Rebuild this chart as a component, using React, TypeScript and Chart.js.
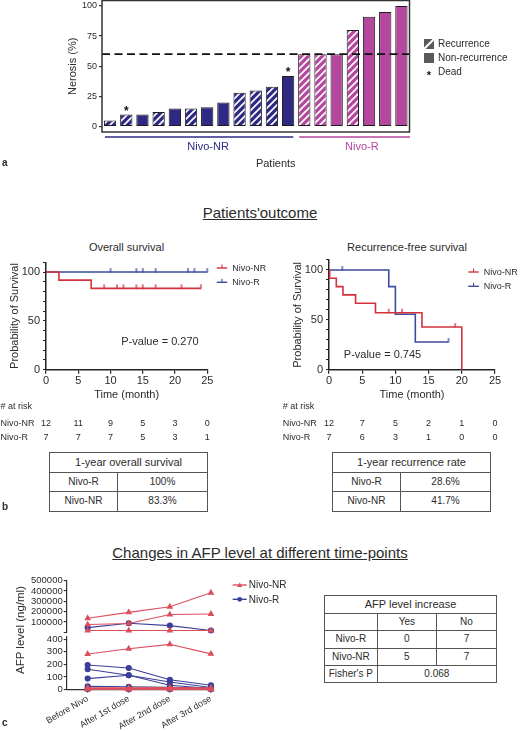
import React, { useEffect, useRef } from 'react';
import { Chart, registerables } from 'chart.js';

Chart.register(...registerables);

const FONT = '"Liberation Sans", Arial, Helvetica, sans-serif';
const INK = '#2b2b2b';

/* ---------------- a: necrosis per patient ---------------- */
const patientIds = ['1', '2', '3', '4', '5', '6', '7', '8', '9', '10', '11', '12', '13', '14', '15', '16', '17', '18', '19'];
const necrosisPct = [5, 10, 10, 12, 15, 15, 16, 20, 28, 30, 33, 42, 60, 60, 60, 80, 91, 95, 100];
const patientGroup = [
  'Nivo-NR', 'Nivo-NR', 'Nivo-NR', 'Nivo-NR', 'Nivo-NR', 'Nivo-NR', 'Nivo-NR', 'Nivo-NR', 'Nivo-NR', 'Nivo-NR', 'Nivo-NR', 'Nivo-NR',
  'Nivo-R', 'Nivo-R', 'Nivo-R', 'Nivo-R', 'Nivo-R', 'Nivo-R', 'Nivo-R',
];
const recurred = [true, true, false, true, false, true, false, false, true, true, true, false, true, true, false, true, false, false, false];
const died = [false, true, false, false, false, false, false, false, false, false, false, true, false, false, false, false, false, false, false];
const necrosisCutoff = 60;
const necrosisTicks = [0, 25, 50, 75, 100];
const groupNames = ['Nivo-NR', 'Nivo-R'];
const groupColors = ['#2e2a84', '#b4479e'];
const barLegendLabels = ['Recurrence', 'Non-recurrence', 'Dead'];

/* ---------------- b: Kaplan-Meier ---------------- */
const kmGroups = ['Nivo-NR', 'Nivo-R'];
const kmColors = ['#d3313e', '#3c4a9f'];
const osNRTimes = [0, 2, 7, 24];
const osNRSurv = [100, 91.7, 83.3, 83.3];
const osNRCensored = [9, 11, 12, 14, 15, 17, 21, 24];
const osRTimes = [0, 25];
const osRSurv = [100, 100];
const osRCensored = [10, 14, 15, 17, 22, 23, 25];
const rfsNRTimes = [0, 0.1, 1.1, 2.1, 4, 7, 14, 20];
const rfsNRSurv = [100, 91.7, 83.3, 75, 66.7, 57.1, 42.8, 0];
const rfsNRCensored = [9, 11, 19];
const rfsRTimes = [0, 9, 10, 13, 18];
const rfsRSurv = [100, 83.3, 55.6, 27.8, 27.8];
const rfsRCensored = [2, 18];
const kmTimeTicks = [0, 5, 10, 15, 20, 25];
const kmSurvTicks = [0, 10, 20, 30, 40, 50, 60, 70, 80, 90, 100, 110];
const kmSurvLabels = [0, 50, 100];
const osPValue = 'P-value = 0.270';
const rfsPValue = 'P-value = 0.745';
const atRiskTimes = [0, 5, 10, 15, 20, 25];
const osAtRiskNR = [12, 11, 9, 5, 3, 0];
const osAtRiskR = [7, 7, 7, 5, 3, 1];
const rfsAtRiskNR = [12, 7, 5, 2, 1, 0];
const rfsAtRiskR = [7, 6, 3, 1, 0, 0];
const oneYearRows = ['Nivo-R', 'Nivo-NR'];
const oneYearOS = ['100%', '83.3%'];
const oneYearRecurrence = ['28.6%', '41.7%'];

/* ---------------- c: AFP ---------------- */
const afpTimepoints = ['Before Nivo', 'After 1st dose', 'After 2nd dose', 'After 3rd dose'];
const afpNivoNR: number[][] = [
  [136000, 193000, 248000, 383000],
  [75000, 85000, 172000, 178000],
  [17000, 17000, 17000, 17000],
  [283, 325, 360, 284],
  [14, 13, 15, 12],
  [9, 8, 10, 11],
  [6, 5, 5, 6],
  [4, 4, 3, 4],
  [3, 2, 3, 2],
  [2, 2, 2, 2],
  [1, 1, 1, 1],
  [5, 6, 7, 8],
];
const afpNivoR: number[][] = [
  [45000, 88000, 65000, 17000],
  [195, 171, 78, 34],
  [161, 113, 60, 16],
  [87, 113, 34, 8],
  [25, 22, 18, 12],
  [8, 6, 4, 3],
  [3, 2, 2, 1],
];
const afpColors = ['#db4f5c', '#3b3f98'];
const afpUpperTicks = [0, 100000, 200000, 300000, 400000, 500000];
const afpLowerTicks = [0, 100, 200, 300, 400];
const afpUpperMax = 500000;
const afpLowerMax = 420;
const afpTableRows = ['Nivo-R', 'Nivo-NR'];
const afpYes = [0, 5];
const afpNo = [7, 7];
const fisherP = '0.068';

/* ---------------- helpers ---------------- */
function hatchPattern(color: string, size: number): any {
  const c = document.createElement('canvas');
  c.width = size;
  c.height = size;
  const g = c.getContext('2d')!;
  g.fillStyle = color;
  g.fillRect(0, 0, size, size);
  g.strokeStyle = '#ffffff';
  g.lineWidth = 1.7;
  g.beginPath();
  g.moveTo(-1, size + 1);
  g.lineTo(size + 1, -1);
  g.moveTo(-size / 2 - 1, size / 2 + 1);
  g.lineTo(size / 2 + 1, -size / 2 - 1);
  g.moveTo(size / 2 - 1, size * 1.5 + 1);
  g.lineTo(size * 1.5 + 1, size / 2 - 1);
  g.stroke();
  return g.createPattern(c, 'repeat');
}

function censorMark(color: string): HTMLCanvasElement {
  const c = document.createElement('canvas');
  c.width = 4;
  c.height = 10;
  const g = c.getContext('2d')!;
  g.strokeStyle = color;
  g.lineWidth = 1.3;
  g.beginPath();
  g.moveTo(2, 1);
  g.lineTo(2, 5.5);
  g.stroke();
  return c;
}

function stepValue(times: number[], surv: number[], t: number): number {
  let v = surv[0];
  for (let i = 0; i < times.length; i++) if (times[i] <= t) v = surv[i];
  return v;
}

type LegendItem = { text: string; color: string; marker: 'tick' | 'triangle' | 'circle' };
function lineLegend(id: string, cfg: { x: number; y: number; spacing: number; len: number; gap: number; size: number; items: LegendItem[] }) {
  return {
    id,
    afterDraw(chart: any) {
      const ctx = chart.ctx;
      ctx.save();
      ctx.font = `${cfg.size}px ${FONT}`;
      ctx.textBaseline = 'middle';
      ctx.textAlign = 'left';
      cfg.items.forEach((it, i) => {
        const y = cfg.y + i * cfg.spacing;
        const x = cfg.x;
        const mx = x + cfg.len / 2;
        ctx.strokeStyle = it.color;
        ctx.fillStyle = it.color;
        ctx.lineWidth = 1.4;
        ctx.beginPath();
        ctx.moveTo(x, y);
        ctx.lineTo(x + cfg.len, y);
        ctx.stroke();
        if (it.marker === 'tick') {
          ctx.lineWidth = 1.1;
          ctx.beginPath();
          ctx.moveTo(mx, y);
          ctx.lineTo(mx, y - 3.5);
          ctx.stroke();
        } else if (it.marker === 'triangle') {
          ctx.beginPath();
          ctx.moveTo(mx, y - 2.6);
          ctx.lineTo(mx + 2.6, y + 2);
          ctx.lineTo(mx - 2.6, y + 2);
          ctx.closePath();
          ctx.fill();
        } else {
          ctx.beginPath();
          ctx.arc(mx, y, 2.4, 0, Math.PI * 2);
          ctx.fill();
        }
        ctx.fillStyle = INK;
        ctx.fillText(it.text, x + cfg.len + cfg.gap, y + 0.5);
      });
      ctx.restore();
    },
  };
}

/* ---------------- configs ---------------- */
function barConfig(): any {
  const fills = necrosisPct.map((_, i) => {
    const c = groupColors[groupNames.indexOf(patientGroup[i])];
    return recurred[i] ? hatchPattern(c, 7) : c;
  });
  const decor = {
    id: 'barDecor',
    afterDatasetsDraw(chart: any) {
      const { ctx, chartArea, scales } = chart;
      const y = scales.y.getPixelForValue(necrosisCutoff);
      ctx.save();
      ctx.setLineDash([8, 4.5]);
      ctx.strokeStyle = '#111';
      ctx.lineWidth = 1.7;
      ctx.beginPath();
      ctx.moveTo(chartArea.left, y);
      ctx.lineTo(chartArea.right, y);
      ctx.stroke();
      ctx.setLineDash([]);
      const bars = chart.getDatasetMeta(0).data;
      ctx.fillStyle = '#111';
      ctx.font = `bold 12px ${FONT}`;
      ctx.textAlign = 'center';
      ctx.textBaseline = 'alphabetic';
      bars.forEach((b: any, i: number) => {
        if (died[i]) ctx.fillText('*', b.x, b.y + 0.5);
      });
      ctx.restore();
    },
    afterDraw(chart: any) {
      const { ctx, chartArea } = chart;
      const bars = chart.getDatasetMeta(0).data;
      ctx.save();
      ctx.strokeStyle = '#333';
      ctx.lineWidth = 1.5;
      ctx.strokeRect(chartArea.left, chartArea.top, chartArea.right - chartArea.left, chartArea.bottom - chartArea.top);
      groupNames.forEach((g, gi) => {
        const idx = patientGroup.map((p, i) => (p === g ? i : -1)).filter((i) => i >= 0);
        const first = bars[idx[0]];
        const last = bars[idx[idx.length - 1]];
        const x0 = first.x - first.width / 2 + 1;
        const x1 = gi === groupNames.length - 1 ? chartArea.right + 0.5 : last.x + last.width / 2 - 1;
        ctx.strokeStyle = groupColors[gi];
        ctx.lineWidth = 1.5;
        ctx.beginPath();
        ctx.moveTo(x0, chartArea.bottom + 5);
        ctx.lineTo(x1, chartArea.bottom + 5);
        ctx.stroke();
        ctx.fillStyle = groupColors[gi];
        ctx.font = `11px ${FONT}`;
        ctx.textAlign = 'center';
        ctx.textBaseline = 'middle';
        ctx.fillText(g, (first.x - first.width / 2 + last.x + last.width / 2) / 2 + 9, chartArea.bottom + 14.5);
      });
      ctx.fillStyle = INK;
      ctx.font = `11px ${FONT}`;
      ctx.textAlign = 'center';
      ctx.textBaseline = 'middle';
      ctx.fillText('Patients', (chartArea.left + chartArea.right) / 2 + 20, chartArea.bottom + 31.5);
      const lx = chartArea.right + 14.5;
      const ly = [54, 68, 82];
      ctx.fillStyle = '#595959';
      ctx.fillRect(lx, ly[0] - 5, 10, 10);
      ctx.save();
      ctx.beginPath();
      ctx.rect(lx, ly[0] - 5, 10, 10);
      ctx.clip();
      ctx.strokeStyle = '#fff';
      ctx.lineWidth = 2;
      ctx.beginPath();
      ctx.moveTo(lx - 1, ly[0] + 6);
      ctx.lineTo(lx + 11, ly[0] - 6);
      ctx.stroke();
      ctx.restore();
      ctx.fillStyle = '#595959';
      ctx.fillRect(lx, ly[1] - 5, 10, 10);
      ctx.fillStyle = '#111';
      ctx.font = `bold 11px ${FONT}`;
      ctx.textAlign = 'center';
      ctx.textBaseline = 'alphabetic';
      ctx.fillText('*', lx + 5, ly[2] + 6.5);
      ctx.fillStyle = INK;
      ctx.font = `10px ${FONT}`;
      ctx.textAlign = 'left';
      ctx.textBaseline = 'middle';
      barLegendLabels.forEach((t, i) => ctx.fillText(t, lx + 14, ly[i] + 0.5));
      ctx.restore();
    },
  };
  return {
    type: 'bar',
    data: {
      labels: patientIds,
      datasets: [
        {
          data: necrosisPct,
          backgroundColor: fills,
          borderColor: '#1b1b1b',
          borderWidth: 1,
          borderSkipped: false,
          categoryPercentage: 1,
          barPercentage: 0.76,
        },
      ],
    },
    options: {
      responsive: false,
      animation: false,
      events: [],
      layout: { padding: { left: 62, right: 110.5, top: 10.5, bottom: 43 } },
      plugins: { legend: { display: false }, tooltip: { enabled: false } },
      scales: {
        x: { display: false },
        y: {
          min: -4.5,
          max: 104.5,
          afterBuildTicks: (ax: any) => {
            ax.ticks = necrosisTicks.map((v) => ({ value: v }));
          },
          afterFit: (ax: any) => {
            ax.width = 40;
          },
          ticks: { font: { family: FONT, size: 9 }, color: INK, padding: 2, autoSkip: false },
          grid: { drawOnChartArea: false, tickLength: 3, color: '#333', lineWidth: 1.2 },
          border: { display: false },
          title: { display: true, text: 'Nerosis (%)', font: { family: FONT, size: 11 }, color: INK },
        },
      },
    },
    plugins: [decor],
  };
}

function kmConfig(o: {
  series: { name: string; color: string; times: number[]; surv: number[]; censored: number[] }[];
  pad: { left: number; right: number; top: number; bottom: number };
  yWidth: number;
  legend: { x: number; y: number };
}): any {
  const datasets: any[] = [];
  o.series.forEach((s) => {
    datasets.push({
      label: s.name,
      data: s.times.map((t, i) => ({ x: t, y: s.surv[i] })),
      borderColor: s.color,
      borderWidth: 1.6,
      pointRadius: 0,
      stepped: true,
      fill: false,
      clip: false,
    });
    datasets.push({
      label: s.name + ' censored',
      data: s.censored.map((t) => ({ x: t, y: stepValue(s.times, s.surv, t) })),
      showLine: false,
      pointStyle: censorMark(s.color),
      pointRadius: 3,
      borderColor: s.color,
      backgroundColor: s.color,
      clip: false,
    });
  });
  return {
    type: 'line',
    data: { datasets },
    options: {
      responsive: false,
      animation: false,
      events: [],
      layout: { padding: o.pad },
      plugins: { legend: { display: false }, tooltip: { enabled: false } },
      scales: {
        x: {
          type: 'linear',
          min: 0,
          max: 25,
          afterBuildTicks: (ax: any) => {
            ax.ticks = kmTimeTicks.map((v) => ({ value: v }));
          },
          afterFit: (ax: any) => {
            ax.height = 36.3;
          },
          ticks: { font: { family: FONT, size: 11 }, color: INK, padding: 1, autoSkip: false, maxRotation: 0 },
          grid: { drawOnChartArea: false, tickLength: 4, color: '#222', lineWidth: 1.2 },
          border: { color: '#222', width: 1.5 },
          title: { display: true, text: 'Time (month)', font: { family: FONT, size: 11 }, color: INK, padding: { top: 0, bottom: 4 } },
        },
        y: {
          min: 0,
          max: 110,
          afterBuildTicks: (ax: any) => {
            ax.ticks = kmSurvTicks.map((v) => ({ value: v }));
          },
          afterFit: (ax: any) => {
            ax.width = o.yWidth;
          },
          ticks: {
            font: { family: FONT, size: 11 },
            color: INK,
            padding: 3,
            autoSkip: false,
            callback: (v: any) => (kmSurvLabels.includes(v) ? String(v) : ''),
          },
          grid: { drawOnChartArea: false, tickLength: 3, color: '#222', lineWidth: 1.1 },
          border: { color: '#222', width: 1.5 },
          title: { display: true, text: 'Probability of Survival', font: { family: FONT, size: 11 }, color: INK },
        },
      },
    },
    plugins: [
      lineLegend('kmLegend', {
        x: o.legend.x,
        y: o.legend.y,
        spacing: 14.3,
        len: 10.5,
        gap: 5,
        size: 9,
        items: kmGroups.map((g, i) => ({ text: g, color: kmColors[i], marker: 'tick' as const })),
      }),
    ],
  };
}

function afpDatasets(upper: boolean): any[] {
  const all = [
    ...afpNivoNR.map((v) => ({ g: 0, v })),
    ...afpNivoR.map((v) => ({ g: 1, v })),
  ];
  return all
    .filter((s) => (Math.max(...s.v) > afpLowerMax) === upper)
    .map((s) => ({
      label: groupNames[s.g],
      data: s.v.map((y, i) => ({ x: i, y })),
      borderColor: afpColors[s.g],
      backgroundColor: afpColors[s.g],
      pointBackgroundColor: afpColors[s.g],
      pointBorderColor: afpColors[s.g],
      pointStyle: s.g === 0 ? 'triangle' : 'circle',
      pointRadius: s.g === 0 ? 2.8 : 2.5,
      borderWidth: 1.1,
      fill: false,
      clip: false,
    }));
}

function afpConfig(upper: boolean): any {
  const yTicks = upper ? afpUpperTicks : afpLowerTicks;
  const xScale: any = {
    type: 'linear',
    min: -0.51,
    max: 3.05,
  };
  if (upper) {
    xScale.display = false;
  } else {
    Object.assign(xScale, {
      afterBuildTicks: (ax: any) => {
        ax.ticks = afpTimepoints.map((_, i) => ({ value: i }));
      },
      afterFit: (ax: any) => {
        ax.height = 41.5;
      },
      ticks: {
        font: { family: FONT, size: 9 },
        color: INK,
        padding: 1,
        autoSkip: false,
        minRotation: 30,
        maxRotation: 30,
        callback: (v: any) => afpTimepoints[v] ?? '',
      },
      grid: { drawOnChartArea: false, tickLength: 3, color: '#333', lineWidth: 1.1 },
      border: { color: '#333', width: 1.2 },
    });
  }
  return {
    type: 'line',
    data: { datasets: afpDatasets(upper) },
    options: {
      responsive: false,
      animation: false,
      events: [],
      layout: { padding: upper ? { left: 0, right: 87, top: 10.7, bottom: 7.7 } : { left: 0, right: 87, top: 6.8, bottom: 0 } },
      plugins: { legend: { display: false }, tooltip: { enabled: false } },
      scales: {
        x: xScale,
        y: {
          min: 0,
          max: upper ? afpUpperMax : afpLowerMax,
          afterBuildTicks: (ax: any) => {
            ax.ticks = yTicks.map((v) => ({ value: v }));
          },
          afterFit: (ax: any) => {
            ax.width = 66.7;
          },
          ticks: {
            font: { family: FONT, size: 9.5 },
            color: INK,
            padding: 1,
            autoSkip: false,
            callback: (v: any) => (upper && v === 0 ? '' : String(v)),
          },
          grid: { drawOnChartArea: false, tickLength: 3, color: '#333', lineWidth: 1.1 },
          border: { color: '#333', width: 1.2 },
        },
      },
    },
    plugins: upper
      ? [
          lineLegend('afpLegend', {
            x: 232.7,
            y: 15,
            spacing: 14.3,
            len: 14,
            gap: 2,
            size: 10,
            items: groupNames.map((g, i) => ({ text: g, color: afpColors[i], marker: i === 0 ? ('triangle' as const) : ('circle' as const) })),
          }),
        ]
      : [],
  };
}

/* ---------------- small html pieces ---------------- */
function Txt(p: { cx?: number; x?: number; cy: number; size?: number; bold?: boolean; underline?: boolean; color?: string; children: any }) {
  const size = p.size ?? 11;
  const lh = Math.round(size * 1.2);
  const base: any = {
    position: 'absolute',
    top: p.cy - lh / 2,
    fontSize: size,
    lineHeight: `${lh}px`,
    whiteSpace: 'nowrap',
    fontWeight: p.bold ? 'bold' : 'normal',
    textDecoration: p.underline ? 'underline' : 'none',
    color: p.color ?? INK,
  };
  if (p.cx !== undefined) {
    base.left = p.cx - 200;
    base.width = 400;
    base.textAlign = 'center';
  } else {
    base.left = p.x;
  }
  return <div style={base}>{p.children}</div>;
}

const cellBorder = '1.3px solid #555';
function Table(p: { left: number; top: number; widths: number[]; rows: { h: number; cells: { text: any; span?: number; size?: number }[] }[] }) {
  const total = p.widths.reduce((a, b) => a + b, 0);
  return (
    <table style={{ position: 'absolute', left: p.left, top: p.top, width: total, borderCollapse: 'collapse', tableLayout: 'fixed' }}>
      <colgroup>
        {p.widths.map((w, i) => (
          <col key={i} style={{ width: w }} />
        ))}
      </colgroup>
      <tbody>
        {p.rows.map((r, ri) => (
          <tr key={ri} style={{ height: r.h }}>
            {r.cells.map((c, ci) => (
              <td
                key={ci}
                colSpan={c.span ?? 1}
                style={{
                  border: cellBorder,
                  padding: 0,
                  textAlign: 'center',
                  verticalAlign: 'middle',
                  fontSize: c.size ?? 10,
                  fontFamily: FONT,
                  lineHeight: 1,
                  color: INK,
                }}
              >
                {c.text}
              </td>
            ))}
          </tr>
        ))}
      </tbody>
    </table>
  );
}

function AtRisk(p: { labelX: number; plotLeft: number; plotWidth: number; nr: number[]; r: number[] }) {
  const rows = [
    { name: kmGroups[0], vals: p.nr, y: 423 },
    { name: kmGroups[1], vals: p.r, y: 437.5 },
  ];
  return (
    <>
      <Txt x={p.labelX} cy={406.7} size={9}>
        # at risk
      </Txt>
      {rows.map((row) => (
        <React.Fragment key={row.name}>
          <Txt x={p.labelX} cy={row.y} size={9}>
            {row.name}
          </Txt>
          {row.vals.map((v, i) => (
            <Txt key={i} cx={p.plotLeft + (atRiskTimes[i] / 25) * p.plotWidth} cy={row.y} size={9}>
              {v}
            </Txt>
          ))}
        </React.Fragment>
      ))}
    </>
  );
}

export default function App() {
  const barRef = useRef<HTMLCanvasElement>(null);
  const osRef = useRef<HTMLCanvasElement>(null);
  const rfsRef = useRef<HTMLCanvasElement>(null);
  const afpTopRef = useRef<HTMLCanvasElement>(null);
  const afpBotRef = useRef<HTMLCanvasElement>(null);

  useEffect(() => {
    const charts: Chart[] = [];
    charts.push(new Chart(barRef.current!, barConfig()));
    charts.push(
      new Chart(
        osRef.current!,
        kmConfig({
          series: [
            { name: kmGroups[0], color: kmColors[0], times: osNRTimes, surv: osNRSurv, censored: osNRCensored },
            { name: kmGroups[1], color: kmColors[1], times: osRTimes, surv: osRSurv, censored: osRCensored },
          ],
          pad: { left: 4, right: 82.7, top: 22.3, bottom: 4 },
          yWidth: 42,
          legend: { x: 216.7, y: 28 },
        })
      )
    );
    charts.push(
      new Chart(
        rfsRef.current!,
        kmConfig({
          series: [
            { name: kmGroups[0], color: kmColors[0], times: rfsNRTimes, surv: rfsNRSurv, censored: rfsNRCensored },
            { name: kmGroups[1], color: kmColors[1], times: rfsRTimes, surv: rfsRSurv, censored: rfsRCensored },
          ],
          pad: { left: 17.7, right: 25, top: 20, bottom: 4 },
          yWidth: 41.3,
          legend: { x: 198.3, y: 32 },
        })
      )
    );
    charts.push(new Chart(afpTopRef.current!, afpConfig(true)));
    charts.push(new Chart(afpBotRef.current!, afpConfig(false)));
    return () => charts.forEach((c) => c.destroy());
  }, []);

  const cv = (ref: any, left: number, top: number, w: number, h: number) => (
    <canvas ref={ref} width={w} height={h} style={{ position: 'absolute', left, top, width: w, height: h }} />
  );

  return (
    <div
      style={{
        position: 'absolute',
        left: 0,
        top: 0,
        width: 520,
        height: 731,
        overflow: 'hidden',
        background: '#fff',
        fontFamily: FONT,
        color: INK,
      }}
    >
      {cv(barRef, 0, -10, 520, 185)}
      <Txt x={2} cy={163} size={10} bold>
        a
      </Txt>

      <Txt cx={260} cy={213} size={15} underline>
        Patients'outcome
      </Txt>
      <Txt cx={126.5} cy={247.5} size={11}>
        Overall survival
      </Txt>
      <Txt cx={407} cy={247.5} size={11}>
        Recurrence-free survival
      </Txt>
      {cv(osRef, 0, 240, 290, 170)}
      {cv(rfsRef, 270, 240, 250, 170)}
      <Txt cx={160} cy={341} size={11}>
        {osPValue}
      </Txt>
      <Txt cx={382.5} cy={354.5} size={11}>
        {rfsPValue}
      </Txt>
      <AtRisk labelX={0.5} plotLeft={46} plotWidth={161.3} nr={osAtRiskNR} r={osAtRiskR} />
      <AtRisk labelX={282.7} plotLeft={329} plotWidth={166} nr={rfsAtRiskNR} r={rfsAtRiskR} />
      <Table
        left={49}
        top={452}
        widths={[68, 90]}
        rows={[
          { h: 19.5, cells: [{ text: '1-year overall survival', span: 2, size: 11 }] },
          ...oneYearRows.map((r, i) => ({ h: 19.5, cells: [{ text: r }, { text: oneYearOS[i] }] })),
        ]}
      />
      <Table
        left={332}
        top={452}
        widths={[68, 90]}
        rows={[
          { h: 19.5, cells: [{ text: '1-year recurrence rate', span: 2, size: 11 }] },
          ...oneYearRows.map((r, i) => ({ h: 19.5, cells: [{ text: r }, { text: oneYearRecurrence[i] }] })),
        ]}
      />
      <Txt x={2} cy={507} size={10} bold>
        b
      </Txt>

      <Txt cx={260} cy={553} size={15} underline>
        Changes in AFP level at different time-points
      </Txt>
      {cv(afpTopRef, 0, 570, 300, 70)}
      {cv(afpBotRef, 0, 630, 300, 101)}
      <div
        style={{
          position: 'absolute',
          left: 20,
          top: 630,
          transform: 'translate(-50%, -50%) rotate(-90deg)',
          fontSize: 11.5,
          lineHeight: '14px',
          whiteSpace: 'nowrap',
          color: INK,
        }}
      >
        AFP level (ng/ml)
      </div>
      <Table
        left={324}
        top={595}
        widths={[52.7, 59.3, 60]}
        rows={[
          { h: 17.5, cells: [{ text: 'AFP level increase', span: 3, size: 11 }] },
          { h: 17.5, cells: [{ text: '' }, { text: 'Yes' }, { text: 'No' }] },
          ...afpTableRows.map((r, i) => ({ h: 17.5, cells: [{ text: r }, { text: String(afpYes[i]) }, { text: String(afpNo[i]) }] })),
          { h: 17, cells: [{ text: "Fisher's P" }, { text: fisherP, span: 2 }] },
        ]}
      />
      <Txt x={2} cy={723} size={10} bold>
        c
      </Txt>
    </div>
  );
}
